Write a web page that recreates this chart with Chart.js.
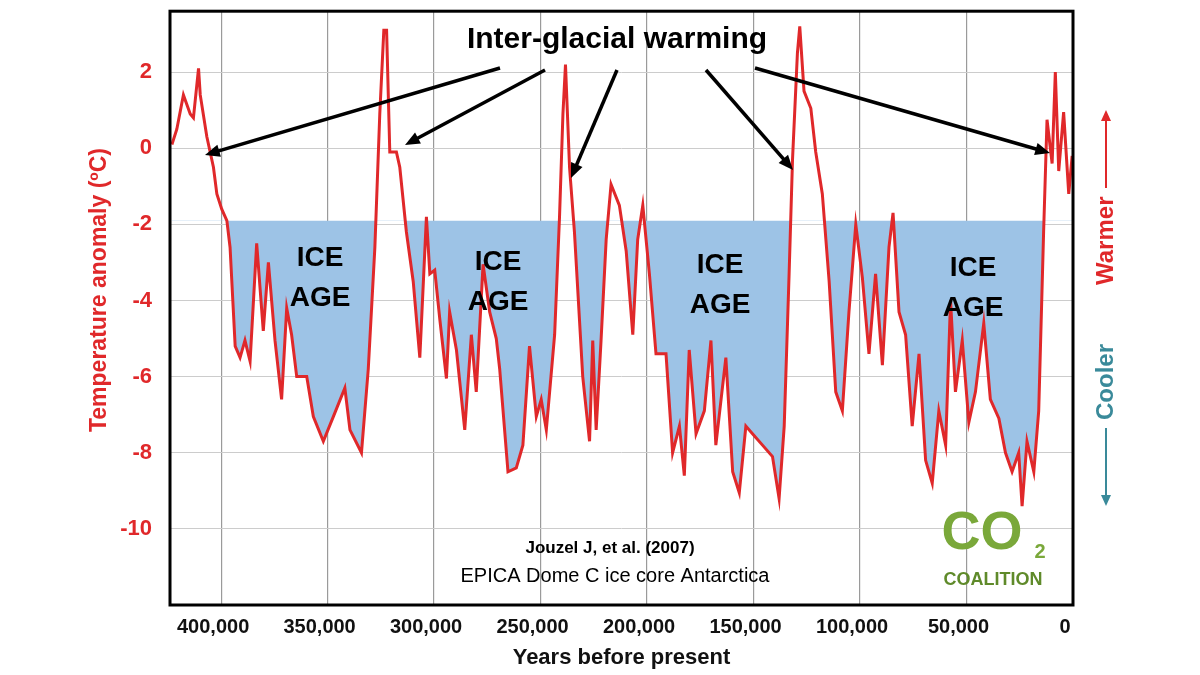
<!DOCTYPE html>
<html>
<head>
<meta charset="utf-8">
<script src="https://cdn.jsdelivr.net/npm/chart.js@4"></script>
<style>
  body { margin: 0; background: #fff; overflow: hidden; }
  #wrap { width: 1200px; height: 675px; overflow: hidden; }
  #chart { margin-top: -20px; display: block; }
</style>
</head>
<body>
<div id="wrap"><canvas id="chart" width="1200" height="695"></canvas></div>
<script>
// years before present
const years = [423100, 420800, 417700, 414500, 413000, 410600, 409800, 406700, 403600, 402000,
  399700, 397300, 395800, 393400, 391100, 388800, 386400, 383300, 380200, 377800,
  374700, 371600, 369200, 366900, 364500, 359800, 356700, 352000, 347300, 341900,
  339500, 334100, 330900, 327800, 325500, 323600, 322300, 320800, 317700, 316100,
  313000, 309800, 306700, 303600, 302000, 299700, 297300, 294200, 292700, 289500,
  285600, 282500, 280200, 277000, 273900, 270800, 269200, 265300, 261400, 258300,
  255200, 252000, 249700, 247300, 243400, 241100, 239500, 238300, 236400, 234100,
  230200, 227000, 225500, 223900, 221600, 219200, 216900, 213000, 209800, 206700,
  204400, 202000, 198900, 195800, 191100, 188000, 184800, 182500, 180200, 177000,
  173100, 170000, 167700, 163000, 159800, 156700, 153600, 150500, 145800, 141100,
  138000, 135600, 133300, 131700, 129400, 128300, 126300, 123100, 120800, 117700,
  114500, 111400, 108300, 105200, 102000, 98900, 95800, 92700, 89500, 86400,
  84500, 81700, 78600, 75500, 72300, 69200, 66100, 63000, 59800, 57500,
  55200, 52000, 48900, 45800, 41900, 38800, 34800, 31700, 28600, 25500,
  23900, 21600, 18400, 16100, 13800, 12200, 9800, 8300, 6700, 4400, 2000, 400];

// temperature anomaly (°C)
const temps = [0.1, 0.5, 1.4, 0.9, 0.8, 2.1, 1.4, 0.3, -0.5, -1.2,
  -1.6, -1.9, -2.6, -5.2, -5.5, -5.05, -5.6, -2.5, -4.8, -3.0,
  -5.05, -6.6, -4.2, -4.9, -6.0, -6.0, -7.05, -7.7, -7.05, -6.3,
  -7.4, -8.0, -5.8, -2.6, 0.9, 3.1, 3.1, -0.1, -0.1, -0.5,
  -2.2, -3.5, -5.5, -1.8, -3.3, -3.2, -4.5, -6.05, -4.3, -5.3,
  -7.4, -4.9, -6.4, -3.05, -4.3, -5.0, -5.8, -8.5, -8.4, -7.8,
  -5.2, -7.05, -6.6, -7.4, -4.9, -1.8, 0.9, 2.2, -0.5, -2.2,
  -6.0, -7.7, -5.05, -7.4, -5.05, -2.4, -0.95, -1.5, -2.7, -4.9,
  -2.4, -1.5, -3.3, -5.4, -5.4, -8.0, -7.3, -8.6, -5.3, -7.5,
  -6.9, -5.05, -7.8, -5.5, -8.5, -9.05, -7.3, -7.5, -7.8, -8.1,
  -9.2, -7.3, -3.3, -0.3, 2.5, 3.2, 1.5, 1.05, -0.1, -1.2,
  -3.5, -6.4, -6.9, -4.3, -2.0, -3.4, -5.4, -3.3, -5.7, -2.6,
  -1.7, -4.3, -4.9, -7.3, -5.4, -8.2, -8.8, -6.9, -7.8, -4.0,
  -6.4, -5.05, -7.2, -6.4, -4.6, -6.6, -7.1, -8.0, -8.5, -8.0,
  -9.4, -7.7, -8.5, -6.9, -2.2, 0.75, -0.4, 2.0, -0.6, 0.95, -1.2, -0.2];

const xTicks = [400000, 350000, 300000, 250000, 200000, 150000, 100000, 50000, 0];
const yTicks = [-12, -10, -8, -6, -4, -2, 0, 2];
const iceAgeLevel = -1.9;

const points = years.map((y, i) => ({ x: y, y: temps[i] }));

const RED = '#e0282a';
const TEAL = '#3a8a9a';

const overlay = {
  id: 'overlay',
  afterDraw(chart) {
    const ctx = chart.ctx;
    const a = chart.chartArea;
    ctx.save();
    ctx.strokeStyle = '#000';
    ctx.lineWidth = 3;
    ctx.strokeRect(a.left, a.top, a.right - a.left, a.bottom - a.top);
    ctx.restore();

    // everything below is placed in page coordinates (canvas is shifted up 20px)
    ctx.save();
    ctx.translate(0, 20);

    ctx.save();
    ctx.fillStyle = '#000';
    ctx.strokeStyle = '#000';
    ctx.font = 'bold 30px "Liberation Sans", Arial';
    ctx.textAlign = 'center';
    ctx.textBaseline = 'middle';
    ctx.fillText('Inter-glacial warming', 617, 40);
    const arrows = [[500, 68, 205, 155], [545, 70, 405, 145], [617, 70, 571, 178],
      [706, 70, 793, 170], [755, 68, 1050, 153]];
    ctx.lineWidth = 3.5;
    arrows.forEach(([x1, y1, x2, y2]) => {
      const ang = Math.atan2(y2 - y1, x2 - x1);
      ctx.beginPath();
      ctx.moveTo(x1, y1);
      ctx.lineTo(x2 - 10 * Math.cos(ang), y2 - 10 * Math.sin(ang));
      ctx.stroke();
      ctx.beginPath();
      ctx.moveTo(x2, y2);
      ctx.lineTo(x2 - 16 * Math.cos(ang - 0.4), y2 - 16 * Math.sin(ang - 0.4));
      ctx.lineTo(x2 - 16 * Math.cos(ang + 0.4), y2 - 16 * Math.sin(ang + 0.4));
      ctx.closePath();
      ctx.fill();
    });

    // ICE AGE labels
    ctx.font = 'bold 28px "Liberation Sans", Arial';
    [[320, 258], [498, 262], [720, 265], [973, 268]].forEach(([x, y]) => {
      ctx.fillText('ICE', x, y);
      ctx.fillText('AGE', x, y + 40);
    });

    // source
    ctx.font = 'bold 17px "Liberation Sans", Arial';
    ctx.fillText('Jouzel J, et al. (2007)', 610, 548);
    ctx.font = '20px "Liberation Sans", Arial';
    ctx.fillText('EPICA Dome C ice core Antarctica', 615, 576);

    // logo
    ctx.fillStyle = '#7aa83a';
    ctx.font = 'bold 54px "Liberation Sans", Arial';
    ctx.fillText('CO', 982, 534);
    ctx.font = 'bold 20px "Liberation Sans", Arial';
    ctx.fillText('2', 1040, 552);
    ctx.fillStyle = '#5f8a2a';
    ctx.font = 'bold 18px "Liberation Sans", Arial';
    ctx.fillText('COALITION', 993, 580);
    ctx.restore();

    // y axis title
    ctx.save();
    ctx.translate(100, 290);
    ctx.rotate(-Math.PI / 2);
    ctx.textAlign = 'center';
    ctx.textBaseline = 'middle';
    ctx.fillStyle = RED;
    ctx.font = 'bold 23px "Liberation Sans", Arial';
    ctx.fillText('Temperature anomaly (ºC)', 0, 0);
    ctx.restore();

    // right-side indicator
    ctx.save();
    ctx.translate(1106, 300);
    ctx.rotate(-Math.PI / 2);
    ctx.font = 'bold 24px "Liberation Sans", Arial';
    ctx.textAlign = 'left';
    ctx.textBaseline = 'middle';
    ctx.fillStyle = TEAL;
    ctx.fillText('Cooler', -120, 0);
    ctx.fillStyle = RED;
    ctx.fillText('Warmer', 15, 0);
    ctx.restore();

    ctx.lineWidth = 2;
    ctx.strokeStyle = RED; ctx.fillStyle = RED;
    ctx.beginPath(); ctx.moveTo(1106, 188); ctx.lineTo(1106, 118); ctx.stroke();
    ctx.beginPath(); ctx.moveTo(1106, 110); ctx.lineTo(1101, 121); ctx.lineTo(1111, 121); ctx.fill();
    ctx.strokeStyle = TEAL; ctx.fillStyle = TEAL;
    ctx.beginPath(); ctx.moveTo(1106, 428); ctx.lineTo(1106, 498); ctx.stroke();
    ctx.beginPath(); ctx.moveTo(1106, 506); ctx.lineTo(1101, 495); ctx.lineTo(1111, 495); ctx.fill();
    ctx.restore();
  }
};

new Chart(document.getElementById('chart'), {
  type: 'line',
  data: {
    datasets: [{
      data: points,
      borderColor: RED,
      borderWidth: 3,
      pointRadius: 0,
      tension: 0,
      fill: { target: { value: iceAgeLevel }, above: 'rgba(0,0,0,0)', below: '#9dc3e6' }
    }]
  },
  options: {
    responsive: false,
    animation: false,
    layout: { padding: { top: 0, right: 127, left: 0, bottom: 0 } },
    plugins: { legend: { display: false }, tooltip: { enabled: false } },
    scales: {
      x: {
        type: 'linear',
        reverse: true,
        min: 0,
        max: 424000,
        afterBuildTicks: s => { s.ticks = xTicks.map(v => ({ value: v })); },
        afterFit: s => { s.height = 70; },
        grid: { color: '#9a9a9a', lineWidth: 1.2, drawTicks: false },
        border: { display: false },
        ticks: {
          color: '#111',
          font: { family: '"Liberation Sans", Arial', size: 20, weight: 'bold' },
          padding: 10,
          labelOffset: -8,
          callback: v => v.toLocaleString('en-US')
        },
        title: {
          display: true,
          text: 'Years before present',
          color: '#111',
          font: { family: '"Liberation Sans", Arial', size: 22, weight: 'bold' },
          padding: { top: 0 }
        }
      },
      y: {
        min: -12,
        max: 3.6,
        afterBuildTicks: s => { s.ticks = yTicks.map(v => ({ value: v })); },
        afterFit: s => { s.width = 170; },
        grid: { color: '#cccccc', lineWidth: 1, drawTicks: false },
        border: { display: false },
        ticks: {
          color: RED,
          font: { family: '"Liberation Sans", Arial', size: 22, weight: 'bold' },
          padding: 18,
          callback: v => v === -12 ? '' : v
        }
      }
    }
  },
  plugins: [overlay]
});
</script>
</body>
</html>
